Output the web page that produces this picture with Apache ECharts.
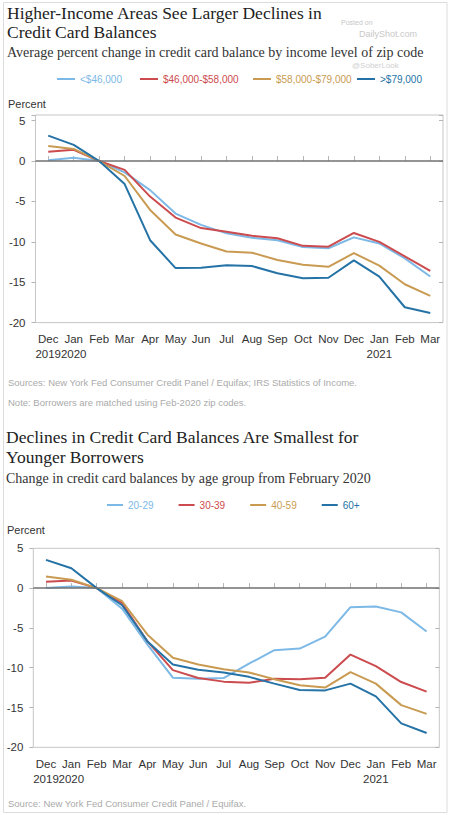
<!DOCTYPE html>
<html>
<head>
<meta charset="utf-8">
<script src="https://cdn.jsdelivr.net/npm/echarts@6/dist/echarts.min.js"></script>
<style>
html,body{margin:0;padding:0;background:#fff;}
#c{width:450px;height:815px;}
</style>
</head>
<body>
<div id="c"></div>
<script>
// ---- data ----
const months = ['Dec\n2019','Jan\n2020','Feb','Mar','Apr','May','Jun','Jul','Aug','Sep','Oct','Nov','Dec','Jan\n2021','Feb','Mar'];
const yTicks = [-20, -15, -10, -5, 0, 5];

// Chart 1: income level of zip code
const incomeNames = ['<$46,000', '$46,000-$58,000', '$58,000-$79,000', '>$79,000'];
const incLt46   = [0.1, 0.4, 0, -1.4, -3.6, -6.5, -7.9, -8.95, -9.5, -9.8, -10.65, -10.8, -9.45, -10.2, -12.05, -14.3];
const inc46to58 = [1.15, 1.4, 0, -1.1, -4.4, -7.0, -8.3, -8.75, -9.25, -9.55, -10.5, -10.6, -8.9, -10.0, -11.8, -13.6];
const inc58to79 = [1.85, 1.5, 0, -1.85, -6.05, -9.1, -10.2, -11.2, -11.35, -12.25, -12.85, -13.1, -11.4, -12.95, -15.25, -16.7];
const incGt79   = [3.15, 2.0, 0, -2.85, -9.8, -13.25, -13.2, -12.9, -13.0, -13.9, -14.5, -14.45, -12.3, -14.3, -18.1, -18.8];

// Chart 2: age group
const ageNames = ['20-29', '30-39', '40-59', '60+'];
const age20to29 = [0, 0.2, 0, -2.6, -7.1, -11.25, -11.4, -11.3, -9.5, -7.8, -7.6, -6.1, -2.4, -2.3, -3.05, -5.45];
const age30to39 = [0.8, 0.95, 0, -1.9, -6.7, -10.3, -11.3, -11.75, -11.9, -11.4, -11.45, -11.25, -8.35, -9.8, -11.8, -13.0];
const age40to59 = [1.45, 1.05, 0, -1.65, -5.85, -8.75, -9.6, -10.2, -10.6, -11.45, -12.2, -12.5, -10.55, -12.0, -14.7, -15.8];
const age60plus = [3.55, 2.5, 0, -2.15, -6.7, -9.6, -10.25, -10.6, -11.15, -12.0, -12.8, -12.85, -12.0, -13.6, -17.0, -18.2];

// ---- styles ----
const colors = ['#7db9e6', '#cc4b4e', '#c99b52', '#2573a6'];
const SANS = '"Liberation Sans", Arial, sans-serif';
const SERIF = '"Liberation Serif", "DejaVu Serif", serif';

const chart = echarts.init(document.getElementById('c'), null, {renderer: 'svg'});

function xAxisFor(gi) {
  return {
    type: 'category', gridIndex: gi, data: months, boundaryGap: true,
    axisLine: {show: false},
    axisTick: {show: true, inside: true, length: 5, alignWithLabel: true, lineStyle: {color: '#b5b5b5'}},
    axisLabel: {interval: 0, color: '#333', fontFamily: SANS, fontSize: 11.5, lineHeight: 15, margin: 9},
    splitLine: {show: false}
  };
}
function yAxisFor(gi, max, right) {
  return {
    type: 'value', gridIndex: gi, min: yTicks[0], max: max, interval: 5,
    position: right ? 'right' : 'left',
    axisLine: {show: false},
    axisTick: {show: true, inside: !!right, length: 4, lineStyle: {color: '#b5b5b5'}},
    axisLabel: {show: !right, color: '#333', fontFamily: SANS, fontSize: 11.5, margin: 10,
      formatter: v => (yTicks.indexOf(v) >= 0 ? String(v) : '')},
    splitLine: {show: false}
  };
}
function lineSeries(name, data, ci, gi, withZero) {
  const s = {
    name: name, type: 'line', data: data, xAxisIndex: gi, yAxisIndex: gi * 2,
    symbol: 'none', smooth: false, animation: false,
    lineStyle: {color: colors[ci], width: 2},
    itemStyle: {color: colors[ci]}
  };
  if (withZero) {
    s.markLine = {silent: true, symbol: 'none', animation: false, label: {show: false},
      lineStyle: {color: '#707070', width: 1.5, type: 'solid'}, data: [{yAxis: 0}]};
  }
  return s;
}
function legendItem(name, ci, left, top) {
  return {
    left: left, top: top, itemWidth: 18, itemHeight: 2, icon: 'rect', itemGap: 0,
    textStyle: {fontFamily: SANS, fontSize: 10, color: colors[ci]},
    data: [{name: name, textStyle: {color: colors[ci]}}]
  };
}
function txt(text, x, y, font, fill) {
  return {type: 'text', silent: true, style: {text: text, x: x, y: y, font: font, fill: fill, verticalAlign: 'middle'}};
}

const option = {
  backgroundColor: '#fff',
  animation: false,
  grid: [
    {left: 35.5, top: 115, width: 407.5, height: 207.6, show: true, borderColor: '#c6c6c6', borderWidth: 1, backgroundColor: 'transparent'},
    {left: 33.3, top: 548.3, width: 406, height: 199, show: true, borderColor: '#c6c6c6', borderWidth: 1, backgroundColor: 'transparent'}
  ],
  xAxis: [xAxisFor(0), xAxisFor(1)],
  yAxis: [yAxisFor(0, 5.7, false), yAxisFor(0, 5.7, true), yAxisFor(1, 5, false), yAxisFor(1, 5, true)],
  legend: [
    legendItem(incomeNames[0], 0, 52, 69),
    legendItem(incomeNames[1], 1, 135, 69),
    legendItem(incomeNames[2], 2, 248, 69),
    legendItem(incomeNames[3], 3, 352, 69),
    {
      left: 102, top: 495, itemWidth: 16, itemHeight: 2, icon: 'rect', itemGap: 25,
      textStyle: {fontFamily: SANS, fontSize: 10},
      data: ageNames.map((n, i) => ({name: n, textStyle: {color: colors[i]}}))
    }
  ],
  graphic: [
    {type: 'rect', silent: true, shape: {x: 3.5, y: 2.5, width: 443.5, height: 810}, style: {fill: 'none', stroke: '#dcdcdc', lineWidth: 1}},
    txt('Posted on', 341, 22, '7px ' + SANS, '#c8c8c8'),
    txt('DailyShot.com', 359, 34, '9px ' + SANS, '#c8c8c8'),
    txt('@SoberLook', 352, 65, '8px ' + SANS, '#d0d0d0'),
    txt('Higher-Income Areas See Larger Declines in', 7, 13, '17.5px ' + SERIF, '#222'),
    txt('Credit Card Balances', 7, 32, '17.5px ' + SERIF, '#222'),
    txt('Average percent change in credit card balance by income level of zip code', 7, 52, '14px ' + SERIF, '#333'),
    txt('Percent', 8, 104, '11px ' + SANS, '#333'),
    txt('Sources: New York Fed Consumer Credit Panel / Equifax; IRS Statistics of Income.', 8, 382, '9.5px ' + SANS, '#aaa'),
    txt('Note: Borrowers are matched using Feb-2020 zip codes.', 8, 402, '9.5px ' + SANS, '#aaa'),
    txt('Declines in Credit Card Balances Are Smallest for', 6, 437, '17.5px ' + SERIF, '#222'),
    txt('Younger Borrowers', 6, 457, '17.5px ' + SERIF, '#222'),
    txt('Change in credit card balances by age group from February 2020', 6, 478, '14px ' + SERIF, '#333'),
    txt('Percent', 7, 530, '11px ' + SANS, '#333'),
    txt('Source: New York Fed Consumer Credit Panel / Equifax.', 8, 803, '9.5px ' + SANS, '#aaa')
  ],
  series: [
    lineSeries(incomeNames[0], incLt46, 0, 0, true),
    lineSeries(incomeNames[1], inc46to58, 1, 0, false),
    lineSeries(incomeNames[2], inc58to79, 2, 0, false),
    lineSeries(incomeNames[3], incGt79, 3, 0, false),
    lineSeries(ageNames[0], age20to29, 0, 1, true),
    lineSeries(ageNames[1], age30to39, 1, 1, false),
    lineSeries(ageNames[2], age40to59, 2, 1, false),
    lineSeries(ageNames[3], age60plus, 3, 1, false)
  ]
};
chart.setOption(option);
</script>
</body>
</html>
